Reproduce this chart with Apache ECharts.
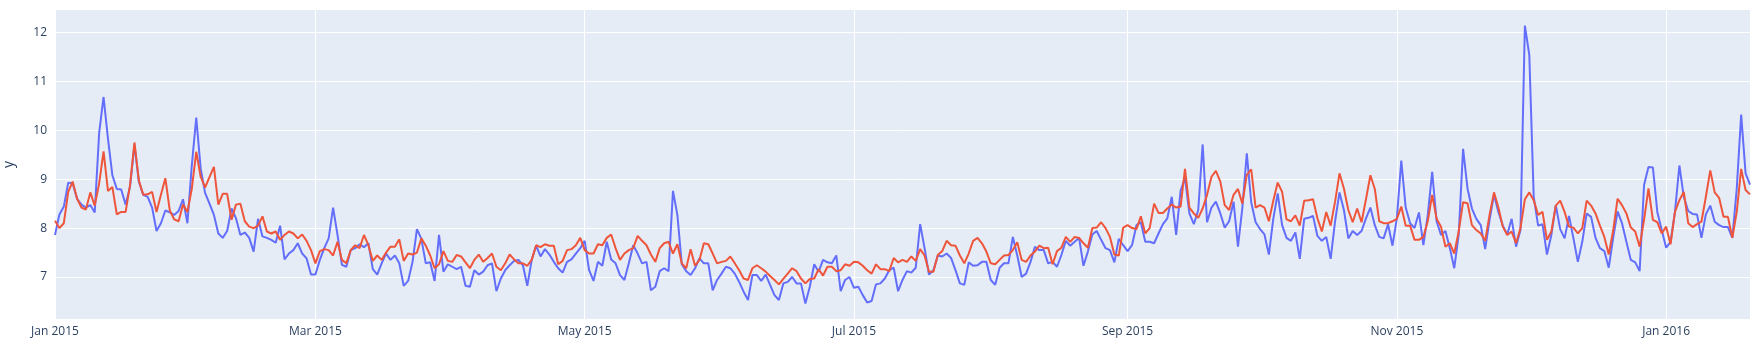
<!DOCTYPE html>
<html>
<head>
<meta charset="utf-8">
<script src="https://cdn.jsdelivr.net/npm/echarts@6/dist/echarts.min.js"></script>
<style>
  html, body { margin: 0; padding: 0; background: #fff; }
  #chart { width: 1760px; height: 352px; }
</style>
</head>
<body>
<div id="chart"></div>
<script>
// daily series, one value per day starting at startDate
const startDate = '2015-01-01';
const endDate = '2016-01-20';
const tickDates = ['2015-01-01', '2015-03-01', '2015-05-01', '2015-07-01', '2015-09-01', '2015-11-01', '2016-01-01'];
const monthNames = ['Jan', 'Feb', 'Mar', 'Apr', 'May', 'Jun', 'Jul', 'Aug', 'Sep', 'Oct', 'Nov', 'Dec'];

// observed (blue)
const yValues = [
    7.86, 8.28, 8.44, 8.93, 8.91, 8.6, 8.48, 8.42, 8.47, 8.32, 9.94, 10.68, 9.83, 9.08, 8.8, 8.79, 8.48, 8.85, 9.7, 8.95, 8.68, 8.64, 8.42, 7.94, 8.1, 8.36, 8.32, 8.27, 8.35, 8.59, 8.1, 9.29,
    10.26, 9.22, 8.72, 8.5, 8.27, 7.89, 7.8, 7.94, 8.4, 8.2, 7.86, 7.91, 7.8, 7.52, 8.19, 7.83, 7.8, 7.76, 7.7, 8.05, 7.36, 7.48, 7.55, 7.69, 7.48, 7.38, 7.05, 7.05, 7.35, 7.59, 7.79, 8.42,
    7.86, 7.25, 7.21, 7.55, 7.59, 7.67, 7.61, 7.69, 7.16, 7.05, 7.28, 7.48, 7.35, 7.44, 7.28, 6.82, 6.92, 7.31, 7.98, 7.78, 7.28, 7.3, 6.92, 7.86, 7.11, 7.26, 7.21, 7.16, 7.21, 6.82, 6.8, 7.14,
    7.05, 7.11, 7.24, 7.28, 6.71, 6.97, 7.14, 7.24, 7.33, 7.35, 7.24, 6.82, 7.35, 7.64, 7.42, 7.57, 7.46, 7.31, 7.18, 7.09, 7.31, 7.36, 7.48, 7.59, 7.74, 7.14, 6.92, 7.31, 7.23, 7.72, 7.36, 7.28,
    7.04, 6.94, 7.28, 7.65, 7.48, 7.28, 7.31, 6.73, 6.8, 7.12, 7.18, 7.12, 8.76, 8.27, 7.26, 7.12, 7.04, 7.18, 7.38, 7.28, 7.28, 6.73, 6.94, 7.07, 7.21, 7.18, 7.07, 6.9, 6.7, 6.53, 7.04, 7.04,
    6.92, 7.05, 6.84, 6.63, 6.53, 6.87, 6.9, 7.0, 6.87, 6.87, 6.46, 6.8, 7.26, 7.11, 7.35, 7.3, 7.28, 7.44, 6.71, 6.94, 7.0, 6.78, 6.8, 6.63, 6.48, 6.51, 6.85, 6.87, 6.97, 7.14, 7.19, 6.71,
    6.94, 7.12, 7.09, 7.19, 8.08, 7.59, 7.05, 7.14, 7.44, 7.42, 7.48, 7.39, 7.14, 6.87, 6.84, 7.3, 7.23, 7.24, 7.31, 7.31, 6.94, 6.84, 7.19, 7.28, 7.28, 7.82, 7.44, 7.0, 7.07, 7.31, 7.62, 7.55,
    7.55, 7.28, 7.31, 7.21, 7.45, 7.74, 7.64, 7.72, 7.8, 7.23, 7.52, 7.87, 7.94, 7.76, 7.59, 7.55, 7.3, 7.78, 7.65, 7.53, 7.65, 8.06, 8.12, 7.72, 7.72, 7.69, 7.89, 8.08, 8.2, 8.64, 7.86, 8.76, 9.02,
    8.3, 8.08, 8.37, 9.71, 8.12, 8.42, 8.54, 8.3, 8.01, 8.14, 8.54, 7.62, 8.42, 9.53, 8.53, 8.12, 7.98, 7.87, 7.46, 8.19, 8.71, 8.06, 7.8, 7.74, 7.91, 7.37, 8.19, 8.21, 8.25, 7.84, 7.74, 7.82,
    7.37, 8.14, 8.73, 8.37, 7.79, 7.94, 7.86, 7.94, 8.2, 8.42, 8.06, 7.82, 7.79, 8.08, 7.64, 8.2, 9.38, 8.42, 8.1, 8.0, 8.32, 7.65, 8.27, 9.15, 8.14, 7.86, 7.94, 7.59, 7.18, 7.86, 9.62, 8.81,
    8.4, 8.19, 8.06, 7.57, 8.17, 8.68, 8.33, 8.05, 7.87, 8.19, 7.62, 7.96, 12.14, 11.54, 8.64, 8.05, 8.08, 7.46, 7.86, 8.47, 7.98, 7.79, 8.25, 7.79, 7.31, 7.72, 8.3, 8.23, 7.8, 7.59, 7.53, 7.19,
    7.8, 8.34, 8.1, 7.72, 7.35, 7.3, 7.12, 8.88, 9.25, 9.24, 8.33, 7.96, 7.6, 7.72, 8.33, 9.28, 8.64, 8.35, 8.29, 8.28, 7.8, 8.28, 8.46, 8.13, 8.06, 8.02, 8.02, 7.8, 8.81, 10.32, 9.12, 8.89
];

// fitted (red)
const yhatValues = [
    8.15, 8.0, 8.1, 8.74, 8.95, 8.6, 8.42, 8.38, 8.73, 8.46, 8.91, 9.57, 8.76, 8.84, 8.28, 8.33, 8.33, 8.88, 9.75, 8.97, 8.68, 8.69, 8.74, 8.33, 8.68, 9.02, 8.36, 8.18, 8.14, 8.48, 8.33, 8.81,
    9.56, 9.05, 8.83, 9.04, 9.25, 8.48, 8.7, 8.7, 8.17, 8.48, 8.5, 8.14, 8.03, 8.0, 8.05, 8.24, 7.93, 7.89, 7.93, 7.76, 7.86, 7.93, 7.89, 7.79, 7.87, 7.74, 7.55, 7.28, 7.53, 7.57, 7.55, 7.44,
    7.72, 7.35, 7.28, 7.55, 7.65, 7.59, 7.86, 7.65, 7.33, 7.44, 7.35, 7.5, 7.62, 7.62, 7.77, 7.33, 7.48, 7.46, 7.5, 7.79, 7.64, 7.44, 7.18, 7.26, 7.53, 7.33, 7.31, 7.45, 7.42, 7.3, 7.18, 7.35,
    7.46, 7.31, 7.39, 7.48, 7.21, 7.14, 7.28, 7.46, 7.36, 7.28, 7.28, 7.23, 7.35, 7.65, 7.61, 7.67, 7.64, 7.64, 7.26, 7.33, 7.55, 7.57, 7.65, 7.8, 7.55, 7.48, 7.48, 7.67, 7.65, 7.8, 7.87, 7.59,
    7.35, 7.48, 7.55, 7.59, 7.84, 7.74, 7.65, 7.46, 7.31, 7.59, 7.69, 7.72, 7.48, 7.67, 7.28, 7.18, 7.57, 7.23, 7.35, 7.69, 7.67, 7.48, 7.28, 7.31, 7.33, 7.42, 7.28, 7.14, 6.97, 6.94, 7.18, 7.24,
    7.18, 7.11, 7.02, 6.94, 6.85, 6.96, 7.07, 7.18, 7.12, 6.97, 6.87, 6.96, 6.97, 7.16, 7.03, 7.21, 7.21, 7.12, 7.14, 7.26, 7.23, 7.31, 7.3, 7.23, 7.14, 7.07, 7.26, 7.16, 7.16, 7.12, 7.39, 7.3,
    7.35, 7.31, 7.42, 7.33, 7.57, 7.44, 7.11, 7.11, 7.45, 7.53, 7.74, 7.65, 7.64, 7.44, 7.28, 7.48, 7.74, 7.8, 7.69, 7.52, 7.28, 7.26, 7.35, 7.44, 7.45, 7.55, 7.71, 7.35, 7.31, 7.44, 7.52, 7.64,
    7.59, 7.6, 7.26, 7.53, 7.6, 7.82, 7.72, 7.82, 7.8, 7.69, 7.6, 8.0, 8.01, 8.12, 8.0, 7.82, 7.46, 7.44, 8.01, 8.06, 8.0, 7.98, 8.24, 7.89, 8.0, 8.5, 8.31, 8.31, 8.4, 8.48, 8.42, 8.44, 9.21,
    8.42, 8.3, 8.21, 8.4, 8.68, 9.05, 9.17, 8.95, 8.47, 8.37, 8.68, 8.8, 8.5, 9.09, 9.2, 8.42, 8.47, 8.42, 8.14, 8.56, 8.93, 8.74, 8.18, 8.14, 8.26, 8.05, 8.56, 8.57, 8.59, 8.2, 7.93, 8.33,
    8.05, 8.54, 9.12, 8.81, 8.37, 8.12, 8.4, 8.12, 8.59, 9.08, 8.8, 8.14, 8.1, 8.1, 8.14, 8.19, 8.44, 8.05, 8.05, 7.76, 7.76, 7.82, 8.14, 8.68, 8.19, 8.03, 7.62, 7.69, 7.48, 7.93, 8.53, 8.51,
    8.06, 7.96, 7.89, 7.74, 8.27, 8.73, 8.42, 8.03, 7.86, 7.93, 7.69, 8.0, 8.59, 8.73, 8.57, 8.27, 8.33, 7.76, 7.93, 8.46, 8.56, 8.33, 8.03, 8.01, 7.89, 8.0, 8.56, 8.46, 8.3, 8.05, 7.82, 7.46,
    7.95, 8.6, 8.47, 8.3, 8.01, 7.93, 7.62, 8.17, 8.81, 8.17, 8.12, 7.89, 8.03, 7.67, 8.33, 8.57, 8.74, 8.1, 8.02, 8.08, 8.13, 8.64, 9.18, 8.73, 8.62, 8.23, 8.23, 7.8, 8.33, 9.21, 8.78, 8.69
];

const DAY = 86400000;

function toTime (s) {
    return Date.UTC(+s.slice(0, 4), +s.slice(5, 7) - 1, +s.slice(8, 10));
}

const t0 = toTime(startDate);
const times = yValues.map((v, i) => t0 + i * DAY);
const tickValues = tickDates.map(toTime);

const chart = echarts.init(document.getElementById('chart'));

const textColor = '#2a3f5f';
const fontFamily = '"Open Sans", verdana, arial, sans-serif';

chart.setOption({
    animation: false,
    textStyle: { fontFamily: fontFamily },
    grid: {
        left: 55,
        right: 10,
        top: 10,
        bottom: 33,
        outerBoundsMode: 'none',
        show: true,
        backgroundColor: '#E5ECF6',
        borderWidth: 0
    },
    xAxis: {
        type: 'value',
        min: t0,
        max: toTime(endDate),
        axisLine: { show: false },
        axisTick: { show: false, customValues: tickValues },
        axisLabel: {
            customValues: tickValues,
            color: textColor,
            fontSize: 12,
            margin: 7,
            hideOverlap: false,
            formatter: (val) => {
                const d = new Date(val);
                return monthNames[d.getUTCMonth()] + ' ' + d.getUTCFullYear();
            }
        },
        splitLine: { show: true, lineStyle: { color: '#ffffff', width: 1 } }
    },
    yAxis: {
        type: 'value',
        min: 6.142,
        max: 12.458,
        name: 'y',
        nameLocation: 'middle',
        nameGap: 39,
        nameTextStyle: { color: textColor, fontSize: 14 },
        axisLine: { show: false },
        axisTick: { show: false },
        axisLabel: { color: textColor, fontSize: 12, margin: 8, showMinLabel: false, showMaxLabel: false },
        splitLine: { show: true, showMinLine: false, showMaxLine: false, lineStyle: { color: '#ffffff', width: 1 } }
    },
    series: [
        {
            name: 'y',
            type: 'line',
            data: times.map((t, i) => [t, yValues[i]]),
            showSymbol: false,
            lineStyle: { color: '#636efa', width: 2 },
            itemStyle: { color: '#636efa' }
        },
        {
            name: 'yhat',
            type: 'line',
            data: times.map((t, i) => [t, yhatValues[i]]),
            showSymbol: false,
            lineStyle: { color: '#EF553B', width: 2 },
            itemStyle: { color: '#EF553B' }
        }
    ]
});
</script>
</body>
</html>
